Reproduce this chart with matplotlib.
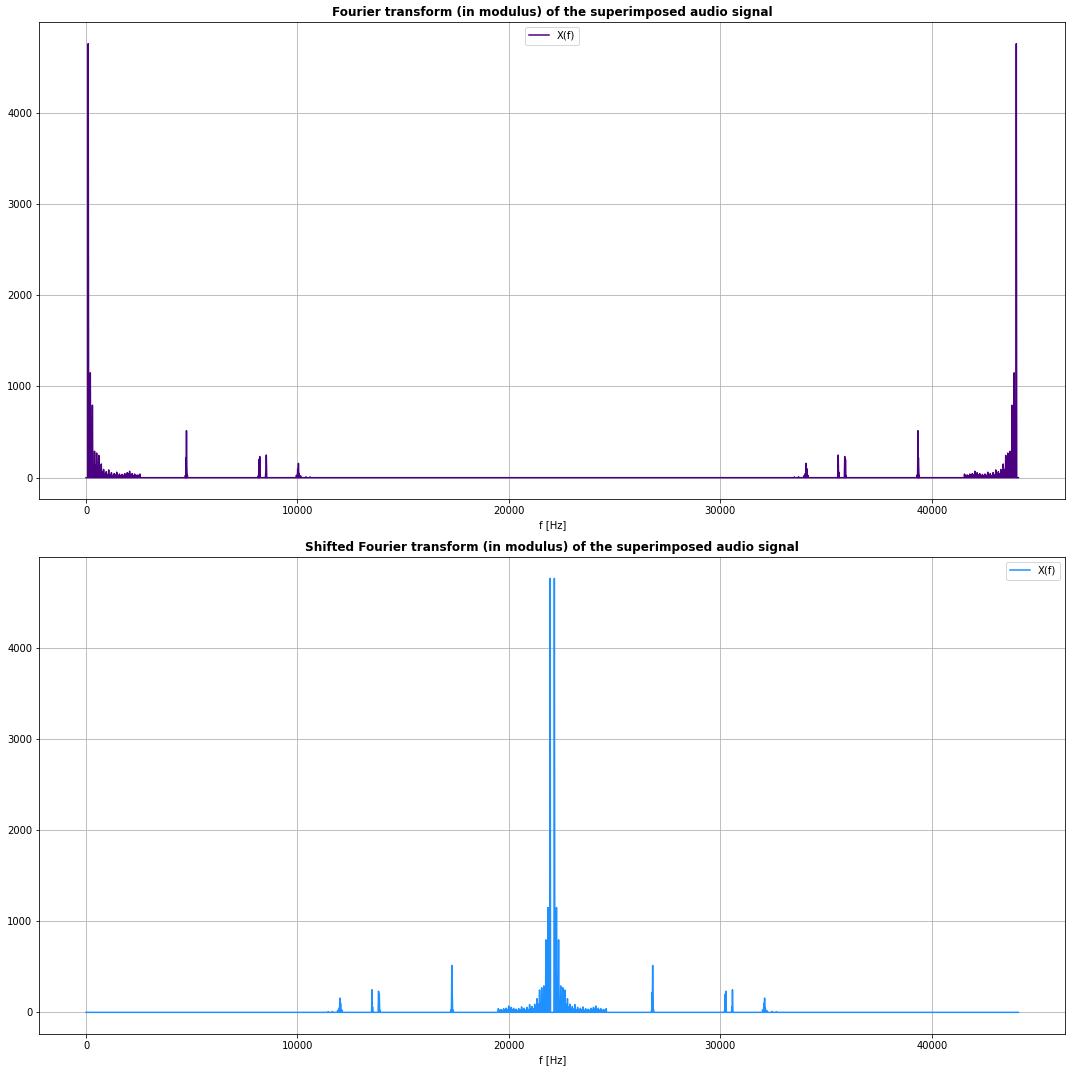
import numpy as np
import matplotlib
matplotlib.use("Agg")
import matplotlib.pyplot as plt

# ---------- values (one-sided, 0 .. fs/2) ----------

fs = 44100

# main low-frequency peaks
low_f = [100, 145, 200, 245, 300]
low_mag = [4760, 330, 1150, 280, 795]

# dense "grass" up to ~2.6 kHz
grass_f = [350, 400, 450, 500, 550, 600, 660, 720, 780, 830, 890, 950, 1010, 1070,
           1130, 1200, 1260, 1330, 1390, 1450, 1510, 1580, 1640, 1700, 1770, 1830,
           1890, 1950, 2000, 2060, 2120, 2180, 2240, 2300, 2360, 2420, 2480, 2550]
grass_mag = [120, 290, 140, 270, 110, 245, 90, 150, 60, 90, 40, 65, 35, 85,
             30, 55, 25, 45, 30, 60, 25, 40, 20, 35, 25, 45,
             30, 55, 40, 70, 30, 45, 25, 40, 20, 30, 25, 40]

# isolated tones
tone_f = [4700, 4730, 4750, 4790, 8150, 8180, 8215, 8500, 8525,
          9950, 10010, 10045, 10080, 10150, 10400, 10600]
tone_mag = [25, 220, 515, 30, 20, 200, 232, 60, 248,
            25, 100, 157, 45, 20, 10, 8]

half_width = 20  # Hz, width of each spike foot


def one_sided():
    f_pk = np.array(low_f + grass_f + tone_f, dtype=float)
    m_pk = np.array(low_mag + grass_mag + tone_mag, dtype=float)
    order = np.argsort(f_pk)
    f_pk, m_pk = f_pk[order], m_pk[order]
    freqs = [0.0]
    mags = [0.0]
    for f, m in zip(f_pk, m_pk):
        freqs += [f - half_width, f, f + half_width]
        mags += [0.0, m, 0.0]
    freqs.append(fs / 2)
    mags.append(0.0)
    return np.array(freqs), np.array(mags)


f1, m1 = one_sided()

# full spectrum of a real signal: mirror around fs/2
f_full = np.concatenate([f1, fs - f1[::-1]])
m_full = np.concatenate([m1, m1[::-1]])

# fftshift: DC moved to the middle
f_shift = np.concatenate([fs / 2 - f1[::-1], fs / 2 + f1])
m_shift = np.concatenate([m1[::-1], m1])

# ---------- plot ----------

fig, (ax1, ax2) = plt.subplots(2, 1, figsize=(1072 / 72, 1072 / 72), dpi=72)

ax1.plot(f_full, m_full, color="indigo", label="X(f)")
ax1.set_title("Fourier transform (in modulus) of the superimposed audio signal", fontweight="bold")
ax1.set_xlabel("f [Hz]")
ax1.grid()
ax1.legend(loc="upper center")

ax2.plot(f_shift, m_shift, color="dodgerblue", label="X(f)")
ax2.set_title("Shifted Fourier transform (in modulus) of the superimposed audio signal", fontweight="bold")
ax2.set_xlabel("f [Hz]")
ax2.grid()
ax2.legend(loc="upper right")

fig.subplots_adjust(left=0.0368, right=0.9935, top=0.9795, bottom=0.0354, hspace=0.12)
fig.savefig("out.png", dpi=72)
